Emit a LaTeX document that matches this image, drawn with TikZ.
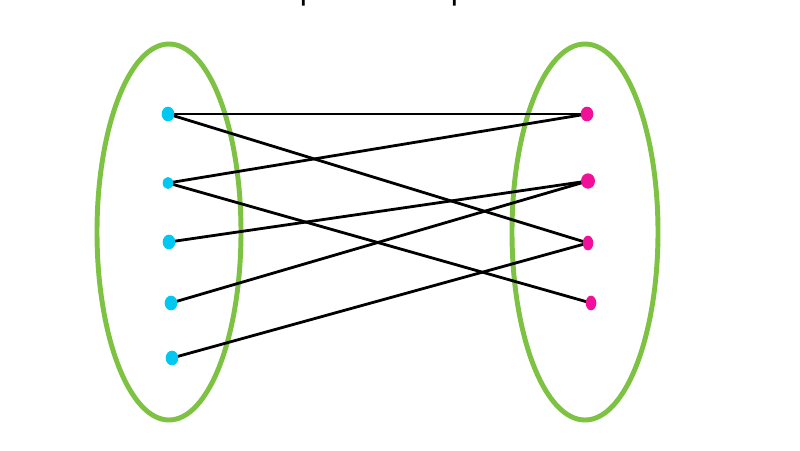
\documentclass[tikz,border=0pt]{standalone}
\usepackage{fontspec}
\setmainfont{Liberation Sans}
\usetikzlibrary{shapes.geometric,backgrounds}
\definecolor{grn}{HTML}{7DC242}
\definecolor{cyn}{HTML}{00C8F0}
\definecolor{mag}{HTML}{F0109A}
\begin{document}
\begin{tikzpicture}[x=0.75pt,y=-0.75pt,
  setoval/.style={draw=grn,line width=3.7pt},
  ldot/.style={fill=cyn,ellipse,inner sep=0pt,minimum width=9.5pt,minimum height=11pt},
  rdot/.style={fill=mag,ellipse,inner sep=0pt,minimum width=9.5pt,minimum height=11pt},
  edge/.style={line width=2.1pt,black}]
\useasboundingbox (0,0) rectangle (800,450);
\node[anchor=base,font=\fontsize{24}{28}\selectfont,inner sep=0pt] (title) at (379,-1) {Bipartite Graph};
\node[ldot] (l1) at (168,114) {};
\node[ldot,minimum width=8pt,minimum height=9pt] (l2) at (168,183) {};
\node[ldot] (l3) at (169,242) {};
\node[ldot] (l4) at (171,303) {};
\node[ldot] (l5) at (172,358) {};
\node[rdot] (r1) at (587,114) {};
\node[rdot,minimum width=10.5pt,minimum height=11.5pt] (r2) at (588,181) {};
\node[rdot,minimum width=8pt] (r3) at (588,243) {};
\node[rdot,minimum width=8pt] (r4) at (591,303) {};
\begin{scope}[on background layer]
\draw[setoval] (169,232) ellipse [x radius=72, y radius=188];
\draw[setoval] (585,232) ellipse [x radius=73, y radius=188];
\draw[edge] (l1.center) -- (r1.center);
\draw[edge] (l1.center) -- (r3.center);
\draw[edge] (l2.center) -- (r1.center);
\draw[edge] (l2.center) -- (r4.center);
\draw[edge] (l3.center) -- (r2.center);
\draw[edge] (l4.center) -- (r2.center);
\draw[edge] (l5.center) -- (r3.center);
\end{scope}
\end{tikzpicture}
\end{document}
